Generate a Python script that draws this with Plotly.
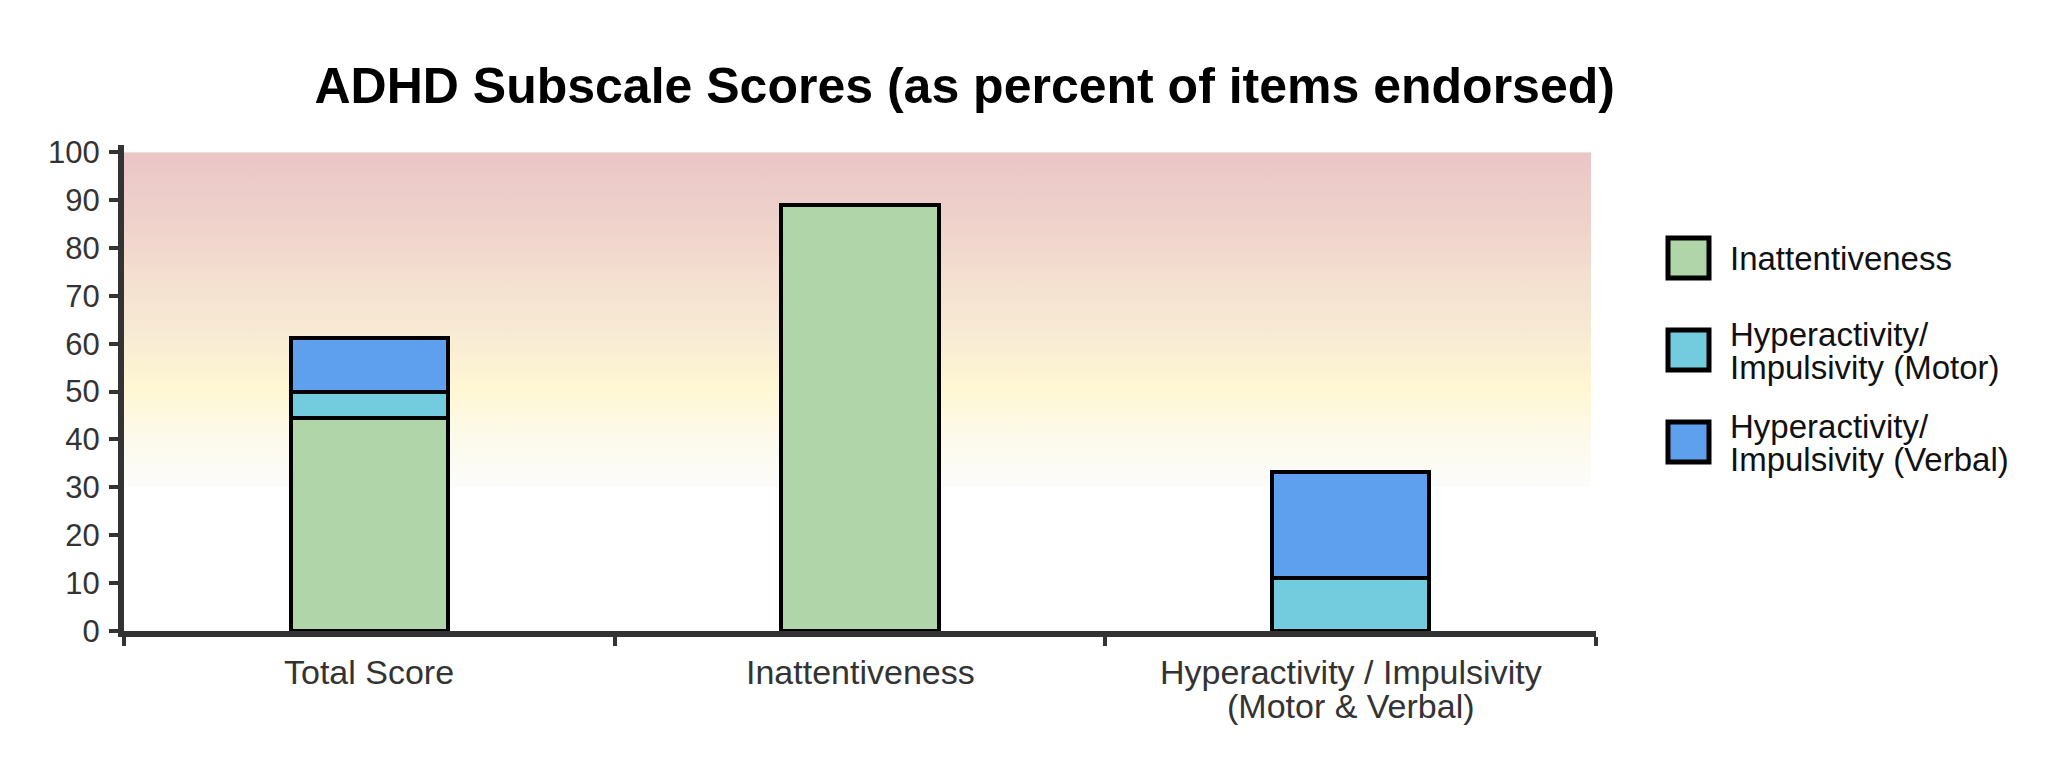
import base64
import plotly.graph_objects as go

# ---- data ----
categories = ["Total Score", "Inattentiveness", "Hyperactivity / Impulsivity<br>(Motor & Verbal)"]
inattentiveness = [44.4, 88.9, None]
motor = [5.6, None, 11.1]
verbal = [11.1, None, 22.2]
series_names = ["Inattentiveness", "Hyperactivity/<br>Impulsivity (Motor)", "Hyperactivity/<br>Impulsivity (Verbal)"]
colors = ["#AFD5A8", "#73CCDD", "#5EA0ED"]
y_ticks = list(range(0, 101, 10))
title_text = "ADHD Subscale Scores (as percent of items endorsed)"

# ---- layout geometry (pixels) ----
W, H = 2048, 767
L, R, T, B = 124, 452, 145, 136
PW = W - L - R
PH = H - T - B

def px_x(p):
    return (p - L) / PW

def px_y(p):
    return 1 - (p - T) / PH

FONT = "Liberation Sans, Arial, Helvetica, sans-serif"

fig = go.Figure()
for name, vals, col in zip(series_names, [inattentiveness, motor, verbal], colors):
    fig.add_trace(go.Bar(
        x=categories, y=vals, name=name, width=0.32,
        marker=dict(color=col, line=dict(color="#000000", width=4)),
        showlegend=False,
    ))

# gradient background band (30..100)
svg = (
    "<svg xmlns='http://www.w3.org/2000/svg' width='10' height='100' viewBox='0 0 10 100' preserveAspectRatio='none'>"
    "<defs><linearGradient id='g' x1='0' y1='0' x2='0' y2='1'>"
    "<stop offset='0' stop-color='#EAC6C6'/>"
    "<stop offset='0.21' stop-color='#EFD2CB'/>"
    "<stop offset='0.38' stop-color='#F4E0D0'/>"
    "<stop offset='0.53' stop-color='#F7EAD4'/>"
    "<stop offset='0.71' stop-color='#FFF7D3'/>"
    "<stop offset='0.86' stop-color='#FCFAEC'/>"
    "<stop offset='1' stop-color='#FCFCFB'/>"
    "</linearGradient></defs><rect width='10' height='100' fill='url(#g)'/></svg>"
)
src = "data:image/svg+xml;base64," + base64.b64encode(svg.encode()).decode()
fig.add_layout_image(dict(
    source=src, xref="paper", yref="y", x=0, y=100,
    sizex=px_x(1591), sizey=70, sizing="stretch",
    xanchor="left", yanchor="top", layer="below",
))

# category labels under the axis (tight two-line spacing as in the reference)
for i, cat in enumerate(categories):
    for j, line in enumerate(cat.split("<br>")):
        fig.add_annotation(text=line, xref="x", yref="paper",
                           x=i, y=px_y(672 + 34 * j), xanchor="center", yanchor="middle",
                           showarrow=False, font=dict(family=FONT, size=34, color="#333333"))

# custom legend
sq_tops = [236, 328, 420]
line_baselines = [[270], [346, 379], [438, 471]]
for i, col in enumerate(colors):
    top = sq_tops[i]
    fig.add_shape(type="rect", xref="paper", yref="paper",
                  x0=px_x(1668), x1=px_x(1709), y0=px_y(top + 42), y1=px_y(top + 2),
                  fillcolor=col, line=dict(color="#000000", width=5))
    for txt, bl in zip(series_names[i].split("<br>"), line_baselines[i]):
        fig.add_annotation(text=txt, xref="paper", yref="paper",
                           x=px_x(1728), y=px_y(bl - 11.5), xanchor="left", yanchor="middle",
                           showarrow=False, font=dict(family=FONT, size=33, color="#111111"))

fig.update_layout(
    width=W, height=H, barmode="stack",
    margin=dict(l=L, r=R, t=T, b=B),
    paper_bgcolor="#FFFFFF", plot_bgcolor="rgba(0,0,0,0)",
    title=dict(text="<b>" + title_text + "</b>", xref="container", yref="container",
               x=964.7 / W, y=1 - 85.5 / H, xanchor="center", yanchor="middle",
               font=dict(family=FONT, size=50, color="#000000")),
    font=dict(family=FONT, color="#333333"),
)
fig.update_xaxes(
    type="category", range=[-0.5, 2.5], tickson="boundaries",
    showline=True, linecolor="#333333", linewidth=6,
    ticks="outside", ticklen=9, tickwidth=4, tickcolor="#333333",
    showgrid=False, zeroline=False, showticklabels=False,
)
fig.update_yaxes(
    range=[0, 101.5], tickmode="array", tickvals=y_ticks, ticktext=[str(v) for v in y_ticks],
    showline=True, linecolor="#333333", linewidth=6,
    ticks="outside", ticklen=9, tickwidth=4, tickcolor="#333333",
    showgrid=False, zeroline=False, ticklabelstandoff=3,
    tickfont=dict(family=FONT, size=31, color="#333333"),
)

fig.write_html("out.html")
